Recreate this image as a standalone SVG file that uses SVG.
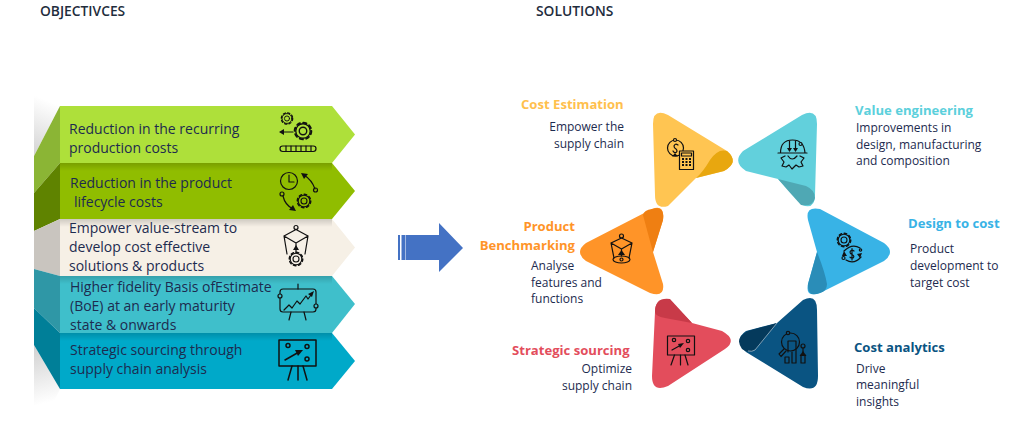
<svg xmlns="http://www.w3.org/2000/svg" width="1024" height="437" viewBox="0 0 1024 437">
<style>
text{font-family:"Open Sans","Liberation Sans",sans-serif}
.h{font-size:13.8px;font-weight:600;fill:#1f2d3d}
.b{font-size:14px;fill:#1d2b4f}
.t{font-size:13.1px;font-weight:700}
.d{font-size:12px;fill:#1d2b4f}
.e{text-anchor:end}
.i{fill:none;stroke:#111;stroke-width:1.2;stroke-linecap:round;stroke-linejoin:round}
.i2{fill:none;stroke:#111;stroke-width:1.5;stroke-linecap:round;stroke-linejoin:round}
.k{fill:#111;stroke:none}
</style>
<defs>
<linearGradient id="sh1" gradientUnits="userSpaceOnUse" x1="36" y1="155" x2="56" y2="104"><stop offset="0" stop-color="#d4d4d4"/><stop offset="1" stop-color="#fff"/></linearGradient>
<linearGradient id="sh2" gradientUnits="userSpaceOnUse" x1="36" y1="350" x2="50" y2="402"><stop offset="0" stop-color="#d4d4d4"/><stop offset="1" stop-color="#fff"/></linearGradient>
<linearGradient id="ds" x1="0" y1="0" x2="0" y2="1"><stop offset="0" stop-color="#000" stop-opacity=".16"/><stop offset="1" stop-color="#000" stop-opacity="0"/></linearGradient>
<g id="gear"><circle r="3" fill="none" stroke="#111" stroke-width="1.100"/><circle r="5.800" fill="none" stroke="#111" stroke-width="1.100"/><circle r="6.700" fill="none" stroke="#111" stroke-width="1.500" stroke-dasharray="2.600 2.660"/></g>
</defs>
<text class="h" x="40" y="16">OBJECTIVCES</text>
<text class="h" x="536" y="16">SOLUTIONS</text>

<g id="left-shadow">
<path d="M34 96 L60 96 L60 106 L34 156Z" fill="url(#sh1)"/>
<path d="M34 345 L60 389 L52 405 L34 405Z" fill="url(#sh2)"/>
</g>

<g id="objective-1">
<path d="M60 106 L34 156 L34 193 L60 163Z" fill="#8bb535"/>
<path d="M60 106H332L355 134.500L332 163H60Z" fill="#aee03a"/>
<text class="b" x="69" y="134">Reduction in the recurring</text>
<text class="b" x="69" y="153">production costs</text>
<g class="i">
<use href="#gear" transform="translate(287,118.500) scale(.85)"/>
<use href="#gear" transform="translate(303,131) scale(1.250)"/>
<path d="M293 132H281"/><path class="k" d="M279 132L284 129V135Z"/>
<rect x="280" y="146" width="36" height="5.500" rx="2.700"/>
<path d="M286 146v5M291 146v5M296 146v5M301 146v5M306 146v5M311 146v5"/>
</g>
</g>

<g id="objective-2">
<path d="M60 163 L34 193 L34 231 L60 219Z" fill="#5f8300"/>
<path d="M60 163H332L355 191L332 219H60Z" fill="#90bd00"/>
<rect x="60" y="163" width="272" height="8" fill="url(#ds)"/>
<text class="b" x="70" y="188">Reduction in the product</text>
<text class="b" x="74" y="207">lifecycle costs</text>
<g class="i">
<circle cx="289" cy="181" r="8.500"/><path d="M289 175V182H294"/>
<path d="M304 175Q312 180 315 189"/><path class="k" d="M301 173L308 174L304 179Z"/><circle cx="315.500" cy="190" r="2"/>
<path d="M283 196Q285 205 293 209"/><path class="k" d="M296 211L289 210L293 205Z"/><circle cx="282" cy="194" r="2"/>
<use href="#gear" transform="translate(304,201)"/>
</g>
</g>

<g id="objective-3">
<path d="M60 219 L34 231 L34 269 L60 276Z" fill="#c9c5bf"/>
<path d="M60 219H332L355 247.500L332 276H60Z" fill="#f6f0e6"/>
<rect x="60" y="219" width="272" height="8" fill="url(#ds)"/>
<text class="b" x="69" y="233">Empower value-stream to</text>
<text class="b" x="69" y="252">develop cost effective</text>
<text class="b" x="69" y="271">solutions &amp; products</text>
<g class="i">
<circle cx="296" cy="227.500" r="2"/>
<path d="M296 229.500L284 236L287 254M296 229.500L308 236L305 254M284 236L296 243L308 236M296 243V247"/>
<path class="k" d="M296 245L299 250H293Z"/><path d="M296 250V253"/>
<use href="#gear" transform="translate(296,259)"/>
</g>
</g>

<g id="objective-4">
<path d="M60 276 L34 269 L34 308 L60 333Z" fill="#2f97a6"/>
<path d="M60 276H332L355 304L332 333H60Z" fill="#3fbfcb"/>
<rect x="60" y="276" width="272" height="8" fill="url(#ds)"/>
<text class="b" x="70" y="292">Higher fidelity Basis ofEstimate</text>
<text class="b" x="70" y="311">(BoE) at an early maturity</text>
<text class="b" x="70" y="330">state &amp; onwards</text>
<g class="i">
<path d="M298 284V289"/>
<rect x="280" y="289" width="36" height="23" rx="3"/>
<circle cx="280" cy="296" r="2" fill="#3fbfcb"/><circle cx="316" cy="306" r="2" fill="#3fbfcb"/>
<path d="M284 310L289 305L292 308L297 301L300 304L306 296L308 299L311 295"/>
<path class="k" d="M314 291L312 297L308 294Z"/>
<path d="M291 312L289 320M304 312L306 320"/>
</g>
</g>

<g id="objective-5">
<path d="M60 333 L34 308 L34 345 L60 389Z" fill="#007f98"/>
<path d="M60 333H332L355 361L332 389H60Z" fill="#00a9c9"/>
<rect x="60" y="333" width="272" height="8" fill="url(#ds)"/>
<text class="b" x="70" y="355">Strategic sourcing through</text>
<text class="b" x="70" y="374">supply chain analysis</text>
<g class="i2">
<rect x="279" y="340" width="37" height="26"/>
<circle cx="288" cy="345.500" r="2"/><circle cx="307" cy="346.500" r="2"/><circle cx="307" cy="359" r="2"/>
<path d="M285 360L299 352"/><path class="k" d="M303 350L298 356L295 350Z"/>
<path d="M292 366L288 380M298 366V380M303 366L307 380"/>
</g>
</g>

<g id="arrow">
<path d="M398 235h2v25h-2zM401.500 235h4v25h-4zM406 235H439V223L463 248L439 272V260H406Z" fill="#4472c4"/>
</g>

<g id="solution-cost-estimation">
<path d="M653 124Q653 108 668 115L727 151Q740 162 724 171L696 178L668 206Q655 210 655 195Z" fill="#ffc552"/>
<path d="M696 178L724 171Q740 162 727 151Q718 148 710 160Q703 172 696 178Z" fill="#e8a70f"/>
<g class="i">
<circle cx="675.500" cy="148" r="8"/><circle cx="675" cy="140" r="1.500" fill="#ffc552"/>
<path d="M678 145Q675 143 674 146Q674 148 676 149Q678 151 676 152.500Q674 153 673 151"/>
<rect x="679.500" y="151" width="14" height="18.500" fill="#ffc552"/><rect x="681.500" y="153" width="10" height="3"/>
<path d="M682 159h9M682 162h9M682 165h9" stroke-width="2" stroke-dasharray="2 1.500" stroke-linecap="butt"/>
</g>
<path class="k" d="M675 153L678 156.500H672Z"/>
<text class="t" x="521" y="109" fill="#ffc04d">Cost Estimation</text>
<text class="d e" x="624" y="131">Empower the</text>
<text class="d e" x="624" y="148">supply chain</text>
</g>

<g id="solution-value-engineering">
<path d="M817 124Q817 108 802 115L743 151Q732 162 746 171L778 179L802 205Q815 210 815 195Z" fill="#62d0dc"/>
<path d="M778 179L806 186Q815 190 815 198Q813 207 801 205Q790 193 778 179Z" fill="#4fa8b4"/>
<g class="i">
<path d="M778 153H807M780.500 153Q780.500 140 792.500 140Q804 140 805 153"/>
<circle cx="800.500" cy="144" r="1.500" fill="#62d0dc"/>
<path d="M789.500 141V150M795.500 141V150"/>
<path d="M785 156L781 158L784 162L782 166L786 167L789 165L792 169L796 165L799 167L803 166L801 162L804 158L800 156"/>
<path d="M788 156Q792 162 797 156"/>
</g>
<path class="k" d="M787 148H792L789.500 152ZM793 148H798L795.500 152Z"/>
<text class="t" x="855" y="115" fill="#5cd0dc">Value engineering</text>
<text class="d" x="856" y="132">Improvements in</text>
<text class="d" x="856" y="149">design, manufacturing</text>
<text class="d" x="856" y="165">and composition</text>
</g>

<g id="solution-design-to-cost">
<path d="M808 220Q805 206 820 209L884 243Q896 252 884 261L820 293Q805 298 808 284L817 252Z" fill="#38b3e6"/>
<path d="M817 252Q825 272 827 284Q827 291 820 293Q807 298 808 284Z" fill="#2a8db8"/>
<g class="i">
<use href="#gear" transform="translate(844,240)"/>
<path d="M844 251Q852 243 860 248M861 257Q854 265 846 260"/>
<circle cx="843.500" cy="258" r="1.500"/><circle cx="860.500" cy="250" r="1.200"/>
<path d="M854 251Q851 249 850 252Q850 254 852 254.500Q855 256 853 258Q850 258 850 257M852 248.500V260"/>
</g>
<path class="k" d="M844 251L847 256H842ZM860 258L862 253L857 254Z"/>
<text class="t" x="908" y="228" fill="#38b3e6">Design to cost</text>
<text class="d" x="910" y="253">Product</text>
<text class="d" x="910" y="270">development to</text>
<text class="d" x="910" y="287">target cost</text>
</g>

<g id="solution-product-benchmarking">
<path d="M652 209Q665 204 663 220L653 252L663 284Q665 298 650 293L586 261Q574 252 586 243Z" fill="#ff9428"/>
<path d="M643 215Q648 234 653 252L663 220Q665 205 652 209Q644 210 643 215Z" fill="#ef7f12"/>
<g class="i">
<circle cx="621.500" cy="236" r="2"/>
<path d="M621.500 238L611 243L614 258M621.500 238L632 243L629 258M611 243L621.500 249L632 243M621.500 249V256"/>
<ellipse cx="621.500" cy="259.500" rx="8.500" ry="3.500"/><circle cx="621.500" cy="259.500" r="1.500"/>
</g>
<path class="k" d="M621.500 250L625 255H618Z"/>
<text class="t e" x="575" y="231" fill="#ff9428">Product</text>
<text class="t e" x="575" y="250" fill="#ff9428">Benchmarking</text>
<text class="d" x="531" y="270">Analyse</text>
<text class="d" x="531" y="287">features and</text>
<text class="d" x="531" y="303">functions</text>
</g>

<g id="solution-strategic-sourcing">
<path d="M655 312Q655 297 670 300L692 323L722 331Q738 340 725 349L668 386Q652 393 652 376Z" fill="#e34d5c"/>
<path d="M655 312Q655 297 670 299L692 323L665 318Q655 316 655 312Z" fill="#c83a48"/>
<g class="i">
<rect x="667.500" y="336" width="27" height="19"/>
<circle cx="674" cy="340" r="1.700"/><circle cx="688" cy="341" r="1.700"/><circle cx="688" cy="350" r="1.700"/>
<path d="M672 350L681 345M674.500 355L671 365M680.500 355V365M685 355L688 365"/>
</g>
<path class="k" d="M684 343L680 348L678 344Z"/>
<text class="t" x="512" y="355" fill="#e34d5c">Strategic sourcing</text>
<text class="d e" x="632" y="373">Optimize</text>
<text class="d e" x="632" y="390">supply chain</text>
</g>

<g id="solution-cost-analytics">
<path d="M803 300Q817 293 817 310L818 376Q818 393 803 387L746 352Q733 340 746 331L777 323Z" fill="#0a5482"/>
<path d="M777 323L748 331Q734 338 742 349Q748 354 755 350Z" fill="#053a5c"/>
<path d="M777 323L755 350Q752 352 748 351" fill="none" stroke="#9fb7c8" stroke-width=".8"/>
<g class="i">
<circle cx="790.500" cy="342" r="9"/><circle cx="788" cy="333" r="1.700" fill="#0a5482"/>
<path d="M784 349L779 354L781 356.500L786 351"/>
<path d="M788 352V341H796V363H792V352"/>
<rect x="785" y="357" width="4" height="6"/>
<circle cx="803" cy="346" r="2"/>
<path d="M803 348V352M801 355V363H805V355"/>
</g>
<path class="k" d="M803 351L806.500 356H799.500Z"/>
<text class="t" x="854" y="352" fill="#0a5482">Cost analytics</text>
<text class="d" x="856" y="373">Drive</text>
<text class="d" x="856" y="389">meaningful</text>
<text class="d" x="856" y="406">insights</text>
</g>
</svg>
